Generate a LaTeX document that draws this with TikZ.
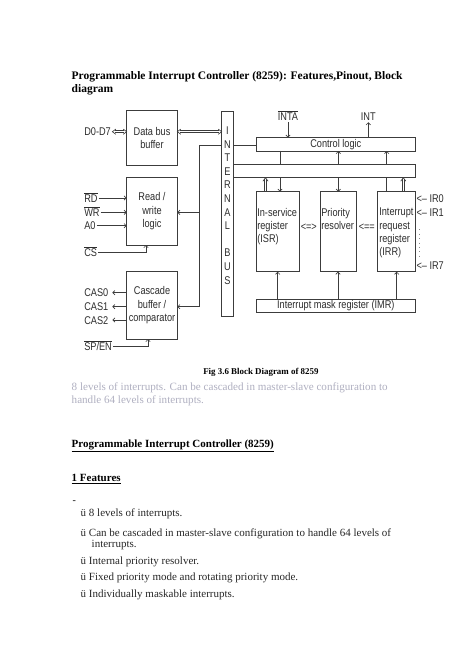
\documentclass[tikz,border=0pt]{standalone}
\usepackage{fontspec}
\setmainfont{Liberation Serif}
\newfontfamily\dfont[FakeStretch=0.82]{Liberation Sans}
\usetikzlibrary{arrows.meta}
\newcommand{\ovl}[1]{\ensuremath{\overline{\mbox{#1}}}}
\definecolor{linec}{RGB}{60,60,60}
\definecolor{txtc}{RGB}{45,45,45}
\definecolor{greyc}{RGB}{175,175,192}
\begin{document}
\begin{tikzpicture}[x=1pt,y=-1pt,
 every node/.style={inner sep=0pt,outer sep=0pt},
 blk/.style={draw=linec, line width=0.7pt, fill=white},
 dtxt/.style={font=\dfont\fontsize{11.2}{13.3}\selectfont, text=txtc},
 lab/.style={dtxt, text height=8pt, text depth=0pt, anchor=west},
 ar/.style={draw=linec, line width=0.7pt, -{Straight Barb[length=2.2pt,width=4.4pt]}},
 ln/.style={draw=linec, line width=0.7pt},
 dbl/.style={draw=linec, line width=0.65pt, double, double distance=1.5pt},
 hd/.style={draw=linec, line width=0.65pt},
 ttl/.style={font=\bfseries\fontsize{11.5}{13}\selectfont, text=black, anchor=base west},
 body/.style={font=\fontsize{11}{12}\selectfont, text=black!85, anchor=base west},
]
\useasboundingbox (0,0) rectangle (474,670);

% title
\node[ttl] (t1) at (71.7,79.3) {Programmable Interrupt Controller (8259): Features,Pinout, Block};
\node[ttl] (t2) at (71.7,92.7) {diagram};

% left blocks
\node[blk, dtxt, minimum width=50.6pt, minimum height=54.3pt, align=center] (dbb) at (152,137.9) {Data bus\\buffer};
\node[blk, dtxt, minimum width=50.6pt, minimum height=67.3pt, align=center] (rw) at (152,211.3) {Read /\\write\\logic};
\node[blk, dtxt, minimum width=50.6pt, minimum height=67.3pt, align=center] (cas) at (152,305.3) {Cascade\\buffer /\\comparator};

% internal bus
\node[blk, minimum width=11.6pt, minimum height=205pt] (bus) at (227.5,214.2) {};
\foreach \l/\k in {I/0,N/1,T/2,E/3,R/4,N/5,A/6,L/7,B/9,U/10,S/11}
  \node[dtxt, text height=8pt, text depth=0pt] (bl\k) at (227.5,130.5+13.6*\k) {\l};

% right blocks
\node[blk, minimum width=159.7pt, minimum height=13.3pt, dtxt] (cl) at (335.8,144.3) {Control logic};
\node[blk, minimum width=182.4pt, minimum height=13.4pt] (bar) at (324.5,171) {};
\node[blk, minimum width=43.3pt, minimum height=80pt] (isr) at (277.7,231.7) {};
\node[blk, minimum width=36pt, minimum height=80pt] (pr) at (338,231.7) {};
\node[blk, minimum width=38pt, minimum height=80pt] (irr) at (396.7,231.7) {};
\node[blk, minimum width=159.7pt, minimum height=13.3pt, dtxt] (imr) at (335.8,305.7) {Interrupt mask register (IMR)};

\node[dtxt, align=left, anchor=north west] (isrt) at (257.3,208.2) {In-service\\register\\(ISR)};
\node[dtxt, align=left, anchor=north west] (prt) at (321.3,208.2) {Priority\\resolver};
\node[dtxt, align=left, anchor=north west] (irrt) at (379.3,208.2) {Interrupt\\request\\register\\(IRR)};
\node[lab, anchor=center] (lr1) at (308.8,226) {<=>};
\node[lab, anchor=center] (lr2) at (366.8,226) {<==};

% IR labels
\node[lab] (ir0) at (416.5,198.3) {<– IR0};
\node[lab] (ir1) at (416.5,212.3) {<– IR1};
\node[lab] (ir7) at (416.5,265.7) {<– IR7};
\draw[draw=black!45, line width=0.8pt, dash pattern=on 0.8pt off 3.6pt] ([xshift=2.8pt,yshift=-13pt]ir1.south west) -- ([xshift=2.8pt,yshift=3pt]ir7.north west);

% left labels
\node[lab] (d07) at (84.3,131.7) {D0-D7};
\node[lab] (rd) at (84.3,198) {\ovl{RD}};
\node[lab] (wr) at (84.3,212.3) {\ovl{WR}};
\node[lab] (a0) at (84.3,225.7) {A0};
\node[lab] (cs) at (84.3,252.7) {\ovl{CS}};
\node[lab] (cas0) at (84.3,292.7) {CAS0};
\node[lab] (cas1) at (84.3,306.7) {CAS1};
\node[lab] (cas2) at (84.3,320) {CAS2};
\node[lab] (spen) at (84.3,346.7) {\ovl{SP/EN}};

\node[lab, anchor=center] (inta) at (288,116.7) {\ovl{INTA}};
\node[lab, anchor=center] (int) at (368.3,116.7) {INT};

% coordinates
\coordinate (j1) at (199.3,145.7);
\coordinate (j2) at (199.3,212.3);
\coordinate (j3) at (199.3,306.7);
\coordinate (csp) at (146,245);
\coordinate (spp) at (148,339);
\coordinate (xa) at (280,0);
\coordinate (xb) at (338.3,0);
\coordinate (xc) at (386.7,0);
\coordinate (xd) at (265.5,0);
\coordinate (xe) at (403.3,0);

% double arrows: D0-D7 <-> data bus buffer <-> internal bus
\coordinate (da1) at ([xshift=1.5pt]d07.east);
\coordinate (da2) at (d07.east -| dbb.west);
\coordinate (db1) at (dbb.east |- d07);
\coordinate (db2) at (bus.west |- d07);
\draw[dbl] ([xshift=2.5pt]da1) -- ([xshift=-2.5pt]da2);
\draw[hd] ([xshift=3.5pt,yshift=2.6pt]da1) -- (da1) -- ([xshift=3.5pt,yshift=-2.6pt]da1);
\draw[hd] ([xshift=-3.5pt,yshift=2.6pt]da2) -- (da2) -- ([xshift=-3.5pt,yshift=-2.6pt]da2);
\draw[dbl] ([xshift=2.5pt]db1) -- ([xshift=-2.5pt]db2);
\draw[hd] ([xshift=3.5pt,yshift=2.6pt]db1) -- (db1) -- ([xshift=3.5pt,yshift=-2.6pt]db1);
\draw[hd] ([xshift=-3.5pt,yshift=2.6pt]db2) -- (db2) -- ([xshift=-3.5pt,yshift=-2.6pt]db2);

% double up arrows into the bar
\coordinate (ua1) at (isr.north -| xd);
\coordinate (ub1) at (bar.south -| xd);
\coordinate (ua2) at (irr.north -| xe);
\coordinate (ub2) at (bar.south -| xe);
\draw[hd] ([xshift=-1.1pt]ua1) -- ([xshift=-1.1pt,yshift=-1.6pt]ub1);
\draw[hd] ([xshift=1.1pt]ua1) -- ([xshift=1.1pt,yshift=-1.6pt]ub1);
\draw[hd] ([xshift=-2.6pt,yshift=-3.5pt]ub1) -- (ub1) -- ([xshift=2.6pt,yshift=-3.5pt]ub1);
\draw[hd] ([xshift=-1.1pt]ua2) -- ([xshift=-1.1pt,yshift=-1.6pt]ub2);
\draw[hd] ([xshift=1.1pt]ua2) -- ([xshift=1.1pt,yshift=-1.6pt]ub2);
\draw[hd] ([xshift=-2.6pt,yshift=-3.5pt]ub2) -- (ub2) -- ([xshift=2.6pt,yshift=-3.5pt]ub2);

% connectors left
\draw[ar] ([xshift=1pt]rd.east) -- (rd.east -| rw.west);
\draw[ar] ([xshift=1pt]wr.east) -- (wr.east -| rw.west);
\draw[ar] ([xshift=1pt]a0.east) -- (a0.east -| rw.west);
\draw[ar] ([xshift=1pt]cs.east) -- (cs.east -| csp) -- (csp);
\draw[ar] (cas.west |- cas0) -- ([xshift=4pt]cas0.east);
\draw[ar] (cas.west |- cas1) -- ([xshift=4pt]cas1.east);
\draw[ar] (cas.west |- cas2) -- ([xshift=4pt]cas2.east);
\draw[ar] ([xshift=1pt]spen.east) -- (spen.east -| spp) -- (spp);
\draw[ln] (bus.west |- j1) -- (j1) -- (j3);
\draw[ar] (j3) -- (j3 -| cas.east);
\draw[ar] (j2) -- (j2 -| rw.east);

% connectors right
\draw[ln] (bus.east |- j1) -- (cl.west |- j1);
\draw[ar] ([yshift=-1.5pt]inta.south) -- (inta.south |- cl.north);
\draw[ar] (int.south |- cl.north) -- ([yshift=-1.5pt]int.south);
\draw[ln] (cl.south -| xa) -- (bar.north -| xa);
\draw[ar] (bar.north -| xb) -- (cl.south -| xb);
\draw[ar] (bar.north -| xc) -- (cl.south -| xc);
\draw[ar] (bar.south -| xa) -- (isr.north -| xa);
\draw[ar] (bar.south -| xb) -- (pr.north -| xb);
\draw[ln] (bar.south -| xc) -- (irr.north -| xc);
\draw[ar] (imr.north -| isr) -- (isr.south);
\draw[ar] (imr.north -| pr) -- (pr.south);
\draw[ar] (imr.north -| irr) -- (irr.south);

% caption and text
\node[font=\bfseries\fontsize{8.9}{10}\selectfont, anchor=base west] (fig) at (203.3,374.3) {Fig 3.6 Block Diagram of 8259};
\node[font=\fontsize{11.1}{13}\selectfont, text=greyc, anchor=base west] (g1) at (71.7,390) {8 levels of interrupts. Can be cascaded in master-slave configuration to};
\node[font=\fontsize{11.1}{13}\selectfont, text=greyc, anchor=base west] (g2) at (71.7,403.3) {handle 64 levels of interrupts.};

\node[ttl, font=\bfseries\fontsize{11}{13}\selectfont] (h1) at (71.7,447.3) {\underline{Programmable Interrupt Controller (8259)}};
\node[ttl, font=\bfseries\fontsize{11}{13}\selectfont] (h2) at (71.7,481.7) {\underline{1 Features}};
\node[body, font=\bfseries\fontsize{10}{12}\selectfont] (dash) at (72.5,503) {-};
\node[body] (b1) at (80.7,516.7) {ü 8 levels of interrupts.};
\node[body] (b2) at (80.7,536.7) {ü Can be cascaded in master-slave configuration to handle 64 levels of};
\node[body] (b2b) at (91.7,547.7) {interrupts.};
\node[body] (b3) at (80.7,564) {ü Internal priority resolver.};
\node[body] (b4) at (80.7,580.7) {ü Fixed priority mode and rotating priority mode.};
\node[body] (b5) at (80.7,597.3) {ü Individually maskable interrupts.};
\end{tikzpicture}
\end{document}
